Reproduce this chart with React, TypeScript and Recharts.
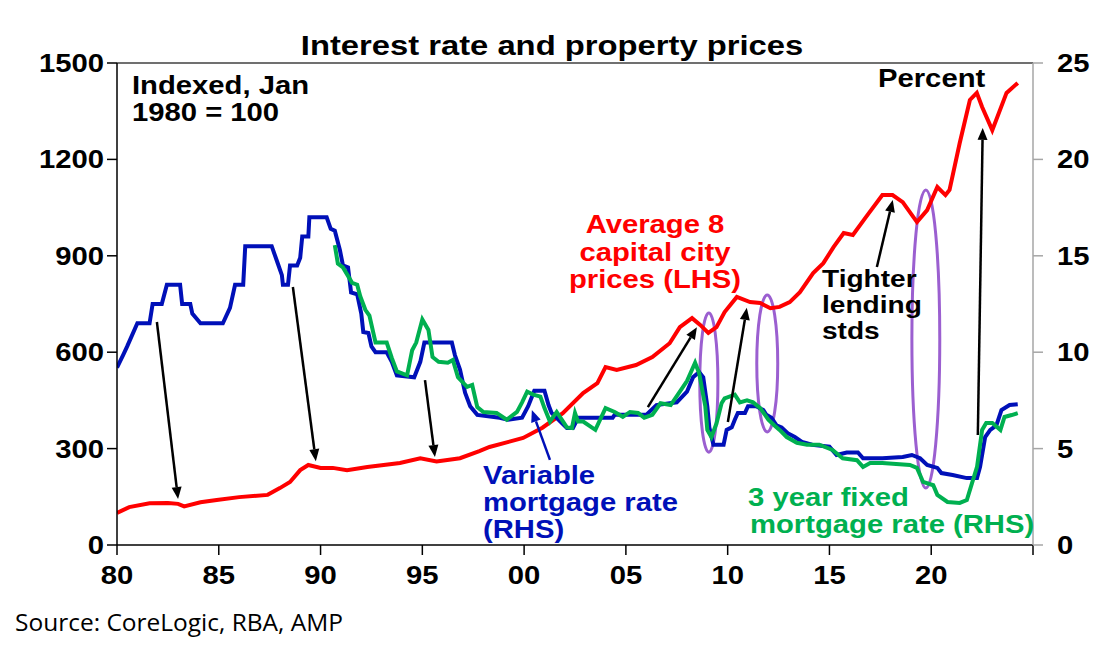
import React from 'react';
import { LineChart, Line, XAxis, YAxis, ReferenceLine, ReferenceArea } from 'recharts';

// Average 8 capital city prices, indexed Jan 1980 = 100 (LHS)
const priceYears = [
  1980.0, 1980.6, 1981.6, 1982.5, 1983.0, 1983.3, 1984.1, 1984.9, 1986.0, 1987.4,
  1988.0, 1988.5, 1989.0, 1989.4, 1990.0, 1990.6, 1991.3, 1992.3, 1993.9, 1994.9,
  1995.7, 1996.85, 1997.8, 1998.3, 1999.95, 2000.9, 2001.9, 2002.9, 2003.6, 2004.0,
  2004.55, 2005.5, 2006.3, 2007.15, 2007.65, 2008.25, 2008.65, 2009.05, 2009.45, 2009.85,
  2010.45, 2011.1, 2011.6, 2012.1, 2012.55, 2013.05, 2013.55, 2014.2, 2014.7, 2015.2,
  2015.7, 2016.15, 2016.8, 2017.6, 2018.1, 2018.6, 2019.3, 2019.8, 2020.3, 2020.7,
  2020.9, 2021.4, 2021.9, 2022.24, 2022.5, 2023.0, 2023.7, 2024.25,
];
const priceIndex = [
  100, 118, 130, 131, 128, 120, 133, 140, 149, 156,
  177, 196, 233, 249, 240, 240, 233, 243, 255, 270,
  260, 270, 292, 305, 333, 365, 410, 473, 504, 554,
  545, 560, 585, 628, 678, 706, 685, 660, 678, 725,
  772, 756, 753, 737, 741, 756, 787, 846, 877, 927,
  971, 965, 1021, 1089, 1089, 1067, 1005, 1042, 1114, 1089,
  1105, 1251, 1385, 1407, 1363, 1291, 1407, 1438,
];

// Variable mortgage rate, % (RHS)
const variableYears = [
  1980.0, 1980.3, 1980.5, 1981.0, 1981.6, 1981.75, 1982.2, 1982.45, 1983.1, 1983.2,
  1983.6, 1983.7, 1984.1, 1985.2, 1985.55, 1985.8, 1986.2, 1986.3, 1987.6, 1987.9,
  1988.1, 1988.15, 1988.4, 1988.5, 1988.85, 1989.0, 1989.1, 1989.4, 1989.45, 1990.3,
  1990.5, 1990.7, 1990.95, 1991.1, 1991.35, 1991.5, 1991.8, 1992.0, 1992.1, 1992.35,
  1992.5, 1992.7, 1993.25, 1993.5, 1993.75, 1994.6, 1994.9, 1995.1, 1996.45, 1996.6,
  1996.85, 1997.1, 1997.35, 1997.7, 1998.8, 1999.2, 1999.9, 2000.2, 2000.5, 2001.0,
  2001.2, 2001.35, 2002.1, 2002.4, 2002.65, 2004.35, 2004.45, 2006.0, 2006.5, 2007.5,
  2008.0, 2008.3, 2008.6, 2008.8, 2009.0, 2009.1, 2009.3, 2009.8, 2009.95, 2010.2,
  2010.35, 2010.5, 2010.85, 2011.0, 2011.4, 2011.75, 2011.9, 2012.15, 2012.4, 2012.65,
  2012.95, 2013.3, 2013.65, 2014.15, 2015.0, 2015.35, 2015.85, 2016.4, 2016.65, 2017.6,
  2018.6, 2019.05, 2019.45, 2019.8, 2020.3, 2020.5, 2021.05, 2021.75, 2022.25, 2022.4,
  2022.65, 2022.9, 2023.2, 2023.45, 2023.85, 2024.25,
];
const variableRate = [
  9.2, 9.85, 10.3, 11.5, 11.5, 12.5, 12.5, 13.5, 13.5, 12.5,
  12.5, 12.0, 11.5, 11.5, 12.3, 13.5, 13.5, 15.5, 15.5, 14.6,
  14.0, 13.5, 13.5, 14.5, 14.5, 14.9, 16.0, 16.0, 17.0, 17.0,
  16.4, 16.3, 15.3, 14.5, 14.4, 13.1, 13.0, 12.0, 11.05, 11.0,
  10.3, 10.0, 10.0, 9.5, 8.8, 8.7, 9.5, 10.5, 10.5, 9.85,
  9.1, 7.9, 7.2, 6.75, 6.6, 6.5, 6.6, 7.2, 8.0, 8.0,
  7.26, 6.85, 6.07, 6.07, 6.6, 6.6, 6.75, 6.75, 7.26, 7.4,
  7.95, 8.7, 8.97, 8.7, 7.2, 6.1, 5.2, 5.2, 5.97, 6.1,
  6.5, 6.85, 6.85, 7.2, 7.2, 7.0, 6.75, 6.6, 6.2, 6.1,
  5.8, 5.6, 5.35, 5.2, 5.1, 4.67, 4.8, 4.8, 4.5, 4.5,
  4.57, 4.67, 4.5, 4.15, 4.0, 3.73, 3.63, 3.47, 3.47, 4.05,
  5.6, 5.97, 6.2, 7.0, 7.26, 7.3,
];

// 3 year fixed mortgage rate, % (RHS)
const fixedYears = [
  1990.7, 1990.85, 1991.1, 1991.55, 1991.8, 1991.95, 1992.2, 1992.4, 1992.7, 1993.25,
  1993.5, 1993.75, 1994.25, 1994.5, 1994.7, 1995.0, 1995.3, 1995.5, 1995.8, 1996.25,
  1996.5, 1996.75, 1997.2, 1997.45, 1997.7, 1998.0, 1998.65, 1999.15, 1999.65, 1999.9,
  2000.15, 2000.45, 2000.8, 2001.0, 2001.27, 2001.6, 2001.85, 2002.1, 2002.35, 2002.5,
  2002.65, 2002.9, 2003.5, 2004.0, 2004.45, 2004.85, 2005.2, 2005.6, 2005.9, 2006.3,
  2006.7, 2007.2, 2007.55, 2008.0, 2008.4, 2008.6, 2008.9, 2009.0, 2009.2, 2009.45,
  2009.7, 2009.85, 2010.35, 2010.6, 2010.95, 2011.25, 2011.6, 2012.0, 2012.3, 2012.55,
  2012.9, 2013.4, 2013.9, 2014.5, 2015.15, 2015.65, 2016.35, 2016.65, 2017.0, 2017.6,
  2018.95, 2019.3, 2019.6, 2020.1, 2020.3, 2020.8, 2021.4, 2021.75, 2022.0, 2022.25,
  2022.5, 2022.7, 2023.0, 2023.4, 2023.6, 2023.95, 2024.25,
];
const fixedRate = [
  15.55, 14.6, 14.4, 13.6, 13.5, 12.9, 12.2, 11.9, 10.5, 10.5,
  9.7, 9.0, 8.8, 10.1, 10.5, 11.7, 11.15, 9.75, 9.5, 9.45,
  9.6, 8.7, 8.2, 8.3, 7.15, 6.9, 6.85, 6.5, 6.9, 7.4,
  7.95, 7.8, 7.7, 7.1, 6.4, 6.9, 6.5, 6.1, 6.07, 6.85,
  6.4, 6.4, 5.97, 7.1, 6.9, 6.65, 6.9, 6.85, 6.6, 6.75,
  7.35, 7.26, 7.8, 8.5, 9.45, 8.9, 7.2, 5.97, 5.6, 6.3,
  7.35, 7.6, 7.8, 7.4, 7.5, 7.4, 7.1, 6.5, 6.2, 5.97,
  5.6, 5.3, 5.2, 5.2, 4.93, 4.5, 4.4, 4.05, 4.25, 4.25,
  4.15, 4.0, 3.27, 3.1, 2.6, 2.23, 2.18, 2.33, 3.2, 4.05,
  5.97, 6.33, 6.33, 5.97, 6.64, 6.74, 6.84,
];

const xTicks = [1980, 1985, 1990, 1995, 2000, 2005, 2010, 2015, 2020, 2025];
const leftTicks = [0, 300, 600, 900, 1200, 1500];
const rightTicks = [0, 5, 10, 15, 20, 25];

// annotation arrows and rings, in (year, LHS index) units
const arrows = [
  { from: [1981.96, 694], to: [1983.0, 143] },
  { from: [1988.64, 803], to: [1989.77, 261] },
  { from: [1995.13, 513], to: [1995.62, 274] },
  { from: [2006.08, 429], to: [2008.49, 678] },
  { from: [2010.01, 383], to: [2010.94, 738] },
  { from: [2017.33, 865], to: [2018.11, 1074] },
  { from: [2022.29, 342], to: [2022.53, 1298] },
];
const blueArrow = { from: [2001.27, 265], to: [2000.38, 420] };
const rings = [
  { x1: 2008.63, x2: 2009.52, y1: 289, y2: 722 },
  { x1: 2011.43, x2: 2012.46, y1: 352, y2: 778 },
  { x1: 2019.05, x2: 2020.42, y1: 177, y2: 1105 },
];

const RED = '#ff0000';
const BLUE = '#0010b8';
const GREEN = '#00b050';
const PURPLE = '#9b5fd0';
const FONT = '"Liberation Sans", Arial, sans-serif';
const SX = 1.17;

const rows = (xs: number[], vs: number[]) => xs.map((year, i) => ({ year, v: vs[i] }));
const priceData = rows(priceYears, priceIndex);
const variableData = rows(variableYears, variableRate);
const fixedData = rows(fixedYears, fixedRate);

function Txt({ x, y, children, color = '#000', anchor = 'start', size = 25, weight = 'bold', family = FONT }: any) {
  return (
    <text transform={`translate(${x},${y}) scale(${SX},1)`} textAnchor={anchor} fontFamily={family}
      fontWeight={weight} fontSize={size} fill={color}>{children}</text>
  );
}

function StretchTick(props: any) {
  const { x, y, payload, textAnchor, fmt, dy } = props;
  return (
    <text transform={`translate(${x},${y}) scale(${SX},1)`} textAnchor={textAnchor} dy={dy}
      fontFamily={FONT} fontWeight="bold" fontSize={25} fill="#000">{fmt(payload.value)}</text>
  );
}

const arrowShape = (color: string) => (p: any) => {
  const { x1, y1, x2, y2 } = p;
  if (x1 == null) return <g />;
  const dx = x2 - x1, dy = y2 - y1;
  const len = Math.sqrt(dx * dx + dy * dy);
  const ux = dx / len, uy = dy / len;
  const hl = 12, hw = 5;
  const bx = x2 - ux * hl, by = y2 - uy * hl;
  const pts = `${x2},${y2} ${bx - uy * hw},${by + ux * hw} ${bx + uy * hw},${by - ux * hw}`;
  return (
    <g>
      <line x1={x1} y1={y1} x2={bx} y2={by} stroke={color} strokeWidth={2.5} />
      <polygon points={pts} fill={color} />
    </g>
  );
};

const ringShape = (p: any) => {
  const { x, y, width, height } = p;
  if (x == null) return <g />;
  return <ellipse cx={x + width / 2} cy={y + height / 2} rx={width / 2} ry={height / 2}
    fill="none" stroke={PURPLE} strokeWidth={3} />;
};

export default function App() {
  const yearLabel = (v: number) => (v === 2025 ? '' : String(v % 100).padStart(2, '0'));
  return (
    <div style={{ position: 'absolute', left: 0, top: 0, width: 1120, height: 654, background: '#fff' }}>
      <LineChart width={1120} height={654} margin={{ top: 63, right: 0, left: 0, bottom: 0 }}>
        <XAxis dataKey="year" type="number" domain={[1980, 2025]} ticks={xTicks} allowDataOverflow
          height={109} tickSize={10} tickMargin={11} stroke="#000" strokeWidth={1.5}
          tick={(p: any) => <StretchTick {...p} fmt={yearLabel} dy="0.71em" />} />
        <YAxis yAxisId="left" domain={[0, 1500]} ticks={leftTicks} width={117} tickSize={10} tickMargin={3}
          stroke="#000" strokeWidth={1.5} tick={(p: any) => <StretchTick {...p} fmt={String} dy="0.36em" />} />
        <YAxis yAxisId="right" orientation="right" domain={[0, 25]} ticks={rightTicks} width={87} tickSize={10}
          tickMargin={14} stroke="#a6a6a6" strokeWidth={1.5}
          tick={(p: any) => <StretchTick {...p} fmt={String} dy="0.36em" />} />
        <ReferenceLine yAxisId="left" y={1500} stroke="#404040" strokeWidth={1.5} />
        <Line yAxisId="left" data={priceData} dataKey="v" type="linear" stroke={RED} strokeWidth={4}
          dot={false} isAnimationActive={false} />
        <Line yAxisId="right" data={variableData} dataKey="v" type="linear" stroke={BLUE} strokeWidth={4}
          dot={false} isAnimationActive={false} />
        <Line yAxisId="right" data={fixedData} dataKey="v" type="linear" stroke={GREEN} strokeWidth={4}
          dot={false} isAnimationActive={false} />
        {rings.map((r, i) => (
          <ReferenceArea key={'r' + i} yAxisId="left" x1={r.x1} x2={r.x2} y1={r.y1} y2={r.y2} shape={ringShape} />
        ))}
        {arrows.map((a, i) => (
          <ReferenceLine key={'a' + i} yAxisId="left"
            segment={[{ x: a.from[0], y: a.from[1] }, { x: a.to[0], y: a.to[1] }]} shape={arrowShape('#000')} />
        ))}
        <ReferenceLine yAxisId="left"
          segment={[{ x: blueArrow.from[0], y: blueArrow.from[1] }, { x: blueArrow.to[0], y: blueArrow.to[1] }]}
          shape={arrowShape(BLUE)} />
      </LineChart>
      <svg width={1120} height={654} style={{ position: 'absolute', left: 0, top: 0, pointerEvents: 'none' }}>
        <Txt x={552} y={55} anchor="middle" size={28}>Interest rate and property prices</Txt>
        <Txt x={132} y={94}>Indexed, Jan</Txt>
        <Txt x={132} y={121}>1980 = 100</Txt>
        <Txt x={878} y={87}>Percent</Txt>
        <Txt x={655} y={233} anchor="middle" color={RED}>Average 8</Txt>
        <Txt x={655} y={261} anchor="middle" color={RED}>capital city</Txt>
        <Txt x={655} y={288} anchor="middle" color={RED}>prices (LHS)</Txt>
        <Txt x={483} y={484} color={BLUE}>Variable</Txt>
        <Txt x={483} y={511} color={BLUE}>mortgage rate</Txt>
        <Txt x={483} y={538} color={BLUE}>(RHS)</Txt>
        <Txt x={748} y={506} color={GREEN}>3 year fixed</Txt>
        <Txt x={750} y={533} color={GREEN}>mortgage rate (RHS)</Txt>
        <Txt x={822} y={287} size={24}>Tighter</Txt>
        <Txt x={822} y={313} size={24}>lending</Txt>
        <Txt x={822} y={339} size={24}>stds</Txt>
        <text x={15} y={631} fontFamily='"Open Sans", "Noto Sans", sans-serif' fontSize={23} fill="#000"
          textLength={328} lengthAdjust="spacingAndGlyphs">Source: CoreLogic, RBA, AMP</text>
      </svg>
    </div>
  );
}
